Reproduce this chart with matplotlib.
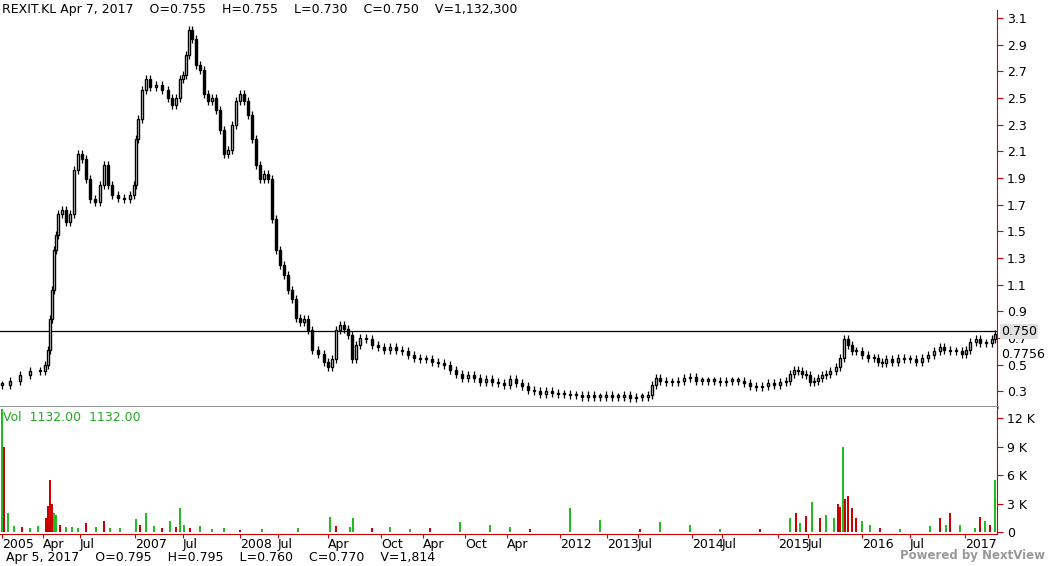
import matplotlib
matplotlib.use("Agg")
import matplotlib.pyplot as plt
from matplotlib.patches import Rectangle
import numpy as np

t = [2,10,20,30,40,45,48,50,52,54,56,58,62,66,70,74,78,82,86,90,95,100,104,108,112,118,124,130,134,136,138,142,146,150,156,162,168,172,176,180,183,186,189,192,196,200,204,208,212,216,220,224,228,232,236,240,244,248,252,256,260,264,268,272,276,280,284,288,292,296,300,304,308,312,318,324,328,332,336,340,344,348,352,356,360,366,372,378,384,390,396,402,408,414,420,426,432,438,444,450,456,462,468,474,480,486,492,498,504,510,516,522,528,534,540,546,552,558,564,570,576,582,588,594,600,606,612,618,624,630,636,642,648,652,656,660,666,672,678,684,690,696,702,708,714,720,726,732,738,744,750,756,762,768,774,780,786,790,794,798,802,806,810,814,818,822,826,830,836,840,844,848,852,856,862,868,874,878,882,886,892,898,904,910,916,922,928,934,940,944,950,956,962,966,970,976,980,986,992,995]
close = [0.35,0.38,0.42,0.45,0.45,0.50,0.61,0.84,1.06,1.36,1.47,1.63,1.66,1.57,1.63,1.96,2.08,2.04,1.89,1.74,1.72,1.85,2.00,1.85,1.77,1.75,1.74,1.77,1.85,2.19,2.34,2.56,2.64,2.58,2.60,2.56,2.50,2.45,2.50,2.64,2.67,2.82,3.01,2.94,2.75,2.71,2.53,2.48,2.50,2.41,2.26,2.08,2.11,2.30,2.48,2.53,2.48,2.37,2.19,2.00,1.89,1.93,1.89,1.59,1.36,1.25,1.17,1.06,0.99,0.85,0.82,0.84,0.76,0.61,0.58,0.52,0.48,0.54,0.76,0.80,0.77,0.72,0.54,0.65,0.70,0.69,0.65,0.63,0.61,0.63,0.61,0.60,0.57,0.55,0.54,0.54,0.52,0.51,0.50,0.46,0.43,0.40,0.42,0.40,0.37,0.39,0.37,0.36,0.35,0.39,0.36,0.34,0.31,0.30,0.28,0.30,0.29,0.28,0.28,0.27,0.27,0.26,0.27,0.26,0.26,0.27,0.26,0.26,0.27,0.25,0.26,0.26,0.27,0.35,0.40,0.38,0.37,0.37,0.38,0.40,0.41,0.38,0.38,0.38,0.38,0.37,0.38,0.38,0.38,0.36,0.34,0.33,0.34,0.36,0.35,0.37,0.38,0.43,0.46,0.45,0.43,0.42,0.37,0.38,0.40,0.42,0.43,0.45,0.48,0.55,0.69,0.65,0.60,0.60,0.57,0.55,0.55,0.52,0.51,0.54,0.52,0.55,0.54,0.54,0.52,0.55,0.57,0.60,0.63,0.61,0.60,0.60,0.58,0.61,0.67,0.69,0.66,0.66,0.69,0.73]
vol_t = [2,4,8,14,22,30,38,46,48,50,52,54,56,60,66,72,78,86,96,104,110,120,136,140,146,154,162,170,176,180,184,190,200,212,224,240,262,298,330,336,350,353,372,390,410,430,460,490,510,530,570,600,640,660,690,720,760,790,796,800,806,812,820,826,834,838,840,843,845,848,852,856,862,870,880,900,930,940,946,950,960,975,980,985,990,995]
vol_k = [13.0,9.0,2.0,0.6,0.5,0.4,0.6,1.5,2.8,5.5,3.0,2.0,1.8,0.8,0.5,0.5,0.4,1.0,0.5,1.2,0.4,0.4,1.4,0.8,2.0,0.6,0.4,1.2,0.5,2.5,0.8,0.4,0.6,0.3,0.4,0.2,0.3,0.4,1.6,0.6,0.5,1.5,0.4,0.5,0.3,0.4,1.1,0.8,0.5,0.3,2.5,1.3,0.3,1.1,0.8,0.3,0.3,1.5,2.0,1.0,1.7,3.2,1.5,1.8,1.5,3.0,2.6,9.0,3.5,3.8,2.5,1.5,1.2,0.7,0.4,0.3,0.6,1.5,0.8,2.0,0.7,0.4,1.6,1.2,0.8,5.5]
vol_down = [0,1,0,0,1,0,0,1,1,1,1,0,0,1,0,0,0,1,0,1,0,0,0,1,0,0,1,0,1,0,0,1,0,0,0,1,0,0,0,1,0,0,1,0,0,1,0,0,0,1,0,0,1,0,0,0,1,0,1,0,1,0,1,0,0,1,1,0,1,1,1,1,0,0,1,0,0,1,0,1,0,0,1,0,1,0]
date_pos = [2,43,80,135,183,240,278,328,381,423,465,507,560,607,638,692,722,778,808,862,910,965]
date_lbl = ["2005","Apr","Jul","2007","Jul","2008","Jul","Apr","Oct","Apr","Oct","Apr","2012","2013","Jul","2014","Jul","2015","Jul","2016","Jul","2017"]
price_ticks = [0.3,0.5,0.7,0.9,1.1,1.3,1.5,1.7,1.9,2.1,2.3,2.5,2.7,2.9,3.1]
vol_ticks = [0,3,6,9,12]

W, H = 1049, 566
fig = plt.figure(figsize=(W/100, H/100), dpi=100)
fig.patch.set_facecolor("white")
R = 997/W
ax = fig.add_axes([0, 1-407/H, R, 397/H])
axv = fig.add_axes([0, 1-534/H, R, 127/H], sharex=ax)
font = "DejaVu Sans"

o = [close[0]] + close[:-1]
for i in range(len(t)):
    op, cl = o[i], close[i]
    hi = max(op, cl) + 0.03
    lo = min(op, cl) - 0.03
    ax.vlines(t[i], lo, hi, color="black", lw=0.9, zorder=2)
    up = cl >= op
    ax.add_patch(Rectangle((t[i]-1.3, min(op, cl)), 2.6, max(abs(cl-op), 0.01),
                           facecolor="white" if up else "black", edgecolor="black", lw=1.0, zorder=3))
ax.axhline(0.75, color="black", lw=0.9)
ax.set_xlim(0, 997)
ax.set_ylim(0.183, 3.16)
ax.yaxis.tick_right()
ax.set_yticks(price_ticks)
ax.set_yticklabels([f"{v:.1f}" for v in price_ticks], fontsize=9, family=font)
ax.tick_params(axis="y", colors="#cc0000", length=4, labelcolor="black", pad=3)
ax.tick_params(axis="x", bottom=False, labelbottom=False)
for s in ["top", "left"]:
    ax.spines[s].set_visible(False)
ax.spines["right"].set_color("#cc0000")
ax.spines["bottom"].set_color("#888888"); ax.spines["bottom"].set_linewidth(2)
ax.text(1.004, 0.75, "0.750", transform=ax.get_yaxis_transform(), fontsize=9, va="center",
        bbox=dict(facecolor="#e0e0e0", edgecolor="none", pad=1))
ax.text(1.004, 0.5756, "0.7756", transform=ax.get_yaxis_transform(), fontsize=9, va="center")
fig.text(2/W, 1-10/H, "REXIT.KL Apr 7, 2017    O=0.755    H=0.755    L=0.730    C=0.750    V=1,132,300",
         fontsize=9, va="center", family=font)

cols = ["#cc0000" if d else "#22bb22" for d in vol_down]
axv.bar(vol_t, vol_k, width=1.3, color=cols)
axv.set_ylim(-0.2, 13.2)
axv.yaxis.tick_right()
axv.set_yticks(vol_ticks)
axv.set_yticklabels(["0", "3 K", "6 K", "9 K", "12 K"], fontsize=9, family=font)
axv.tick_params(axis="y", colors="#cc0000", length=4, labelcolor="black", pad=3)
axv.set_xticks(date_pos)
axv.set_xticklabels(date_lbl, fontsize=9, family=font, ha="left")
axv.tick_params(axis="x", colors="#cc0000", length=3, labelcolor="black", pad=0)
for s in ["top", "left"]:
    axv.spines[s].set_visible(False)
axv.spines["right"].set_color("#cc0000")
axv.spines["bottom"].set_color("#cc0000")
axv.text(0.003, 0.97, "Vol  1132.00  1132.00", transform=axv.transAxes, color="#22aa22",
         fontsize=9, va="top")
fig.text(6/W, 1-557/H, "Apr 5, 2017    O=0.795    H=0.795    L=0.760    C=0.770    V=1,814",
         fontsize=9, va="center", family=font)
fig.text(1045/W, 1-555/H, "Powered by NextView", fontsize=8.5, color="#999999",
         ha="right", va="center", weight="bold")
fig.savefig("out.png", dpi=100)
